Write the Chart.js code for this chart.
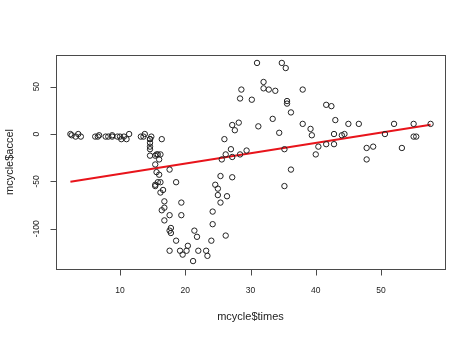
<!DOCTYPE html>
<html>
<head>
<meta charset="utf-8">
<script src="https://cdn.jsdelivr.net/npm/chart.js@4"></script>
<style>
  html, body { margin: 0; padding: 0; background: #fff; }
  #wrap { width: 474px; height: 338px; }
</style>
</head>
<body>
<div id="wrap"><canvas id="plot" width="474" height="338"></canvas></div>
<script>
// mcycle data (MASS)
const times = [2.4, 2.6, 3.2, 3.6, 4.0, 6.2, 6.6, 6.8, 7.8, 8.2,
  8.8, 8.8, 9.6, 10.0, 10.2, 10.6, 11.0, 11.4, 13.2, 13.6,
  13.8, 14.6, 14.6, 14.6, 14.6, 14.6, 14.6, 14.8, 15.4, 15.4,
  15.4, 15.4, 15.6, 15.6, 15.8, 15.8, 16.0, 16.0, 16.2, 16.2,
  16.2, 16.4, 16.4, 16.6, 16.8, 16.8, 16.8, 17.6, 17.6, 17.6,
  17.6, 17.8, 17.8, 18.6, 18.6, 19.2, 19.4, 19.4, 19.6, 20.2,
  20.4, 21.2, 21.4, 21.8, 22.0, 23.2, 23.4, 24.0, 24.2, 24.2,
  24.6, 25.0, 25.0, 25.4, 25.4, 25.6, 26.0, 26.2, 26.2, 26.4,
  27.0, 27.2, 27.2, 27.2, 27.6, 28.2, 28.4, 28.4, 28.6, 29.4,
  30.2, 31.0, 31.2, 32.0, 32.0, 32.8, 33.4, 33.8, 34.4, 34.8,
  35.2, 35.2, 35.4, 35.6, 35.6, 36.2, 36.2, 38.0, 38.0, 39.2,
  39.4, 40.0, 40.4, 41.6, 41.6, 42.4, 42.8, 42.8, 43.0, 44.0,
  44.4, 45.0, 46.6, 47.8, 47.8, 48.8, 50.6, 52.0, 53.2, 55.0,
  55.0, 55.4, 57.6];
const accel = [0.0, -1.3, -2.7, 0.0, -2.7, -2.7, -2.7, -1.3, -2.7, -2.7,
  -1.3, -2.7, -2.7, -2.7, -5.4, -2.7, -5.4, 0.0, -2.7, -2.7,
  0.0, -13.3, -5.4, -5.4, -9.3, -16.0, -22.8, -2.7, -22.8, -32.1,
  -53.5, -54.9, -40.2, -21.5, -21.5, -50.8, -42.9, -26.8, -21.5, -50.8,
  -61.7, -5.4, -80.4, -59.0, -71.0, -91.1, -77.7, -37.5, -85.6, -123.1,
  -101.9, -99.1, -104.4, -112.5, -50.8, -123.1, -85.6, -72.3, -127.2, -123.1,
  -117.9, -134.0, -101.9, -108.4, -123.1, -123.1, -128.5, -112.5, -95.1, -81.8,
  -53.5, -64.4, -57.6, -72.3, -44.3, -26.8, -5.4, -107.1, -21.5, -65.6,
  -16.0, -45.6, -24.2, 9.5, 4.0, 12.0, -21.5, 37.5, 46.9, -17.4,
  36.2, 75.0, 8.1, 54.9, 48.2, 46.9, 16.0, 45.6, 1.3, 75.0,
  -16.0, -54.9, 69.6, 34.8, 32.1, -37.5, 22.8, 46.9, 10.7, 5.4,
  -1.3, -21.5, -13.3, 30.8, -10.7, 29.4, 0.0, -10.7, 14.7, -1.3,
  0.0, 10.7, 10.7, -26.8, -14.7, -13.3, 0.0, 10.7, -14.7, -2.7,
  10.7, -2.7, 10.7];
const xTicks = [10, 20, 30, 40, 50];
const yTicks = [-100, -50, 0, 50];

// least squares fit accel ~ times
const n = times.length;
const mx = times.reduce((a, b) => a + b, 0) / n;
const my = accel.reduce((a, b) => a + b, 0) / n;
let sxy = 0, sxx = 0;
for (let i = 0; i < n; i++) {
  sxy += (times[i] - mx) * (accel[i] - my);
  sxx += (times[i] - mx) * (times[i] - mx);
}
const slope = sxy / sxx;
const icpt = my - slope * mx;
const fitLine = [Math.min(...times), Math.max(...times)].map(t => ({ x: t, y: icpt + slope * t }));

// R style: 4% padding on data range
const xr = Math.max(...times) - Math.min(...times);
const yr = Math.max(...accel) - Math.min(...accel);
const xMin = Math.min(...times) - 0.04 * xr, xMax = Math.max(...times) + 0.04 * xr;
const yMin = Math.min(...accel) - 0.04 * yr, yMax = Math.max(...accel) + 0.04 * yr;

const ink = '#222';
const boxInk = '#4a4a4a';

// box, ticks and labels drawn like base R graphics
const rAxes = {
  id: 'rAxes',
  afterDraw(chart) {
    const ctx = chart.ctx;
    const a = chart.chartArea;
    const sx = chart.scales.x, sy = chart.scales.y;
    ctx.save();
    ctx.strokeStyle = boxInk;
    ctx.lineWidth = 1;
    ctx.strokeRect(Math.round(a.left) + 0.5, Math.round(a.top) + 0.5,
      Math.round(a.right - a.left), Math.round(a.bottom - a.top));
    ctx.fillStyle = ink;
    ctx.font = '8.5px "Liberation Sans", Arial, sans-serif';

    // x axis
    const by = Math.round(a.bottom) + 0.5;
    ctx.beginPath();
    ctx.moveTo(sx.getPixelForValue(xTicks[0]), by);
    ctx.lineTo(sx.getPixelForValue(xTicks[xTicks.length - 1]), by);
    xTicks.forEach(t => {
      const px = Math.round(sx.getPixelForValue(t)) + 0.5;
      ctx.moveTo(px, by);
      ctx.lineTo(px, by + 6);
    });
    ctx.stroke();
    ctx.textAlign = 'center';
    ctx.textBaseline = 'middle';
    xTicks.forEach(t => ctx.fillText(String(t), sx.getPixelForValue(t), a.bottom + 22));

    // y axis
    const lx = Math.round(a.left) + 0.5;
    ctx.beginPath();
    ctx.moveTo(lx, sy.getPixelForValue(yTicks[0]));
    ctx.lineTo(lx, sy.getPixelForValue(yTicks[yTicks.length - 1]));
    yTicks.forEach(t => {
      const py = Math.round(sy.getPixelForValue(t)) + 0.5;
      ctx.moveTo(lx, py);
      ctx.lineTo(lx - 6, py);
    });
    ctx.stroke();
    yTicks.forEach(t => {
      ctx.save();
      ctx.translate(a.left - 19, sy.getPixelForValue(t));
      ctx.rotate(-Math.PI / 2);
      ctx.fillText(String(t), 0, 0);
      ctx.restore();
    });

    // axis titles
    ctx.font = '11px "Liberation Sans", Arial, sans-serif';
    ctx.fillText('mcycle$times', (a.left + a.right) / 2, a.bottom + 48);
    ctx.save();
    ctx.translate(9.5, (a.top + a.bottom) / 2);
    ctx.rotate(-Math.PI / 2);
    ctx.fillText('mcycle$accel', 0, 0);
    ctx.restore();
    ctx.restore();
  }
};

const chart = new Chart(document.getElementById('plot'), {
  type: 'scatter',
  data: {
    datasets: [{
      label: 'accel',
      data: times.map((t, i) => ({ x: t, y: accel[i] })),
      pointStyle: 'circle',
      pointRadius: 2.7,
      pointBorderWidth: 1,
      pointBorderColor: ink,
      pointBackgroundColor: 'rgba(0,0,0,0)',
      showLine: false
    }, {
      label: 'fit',
      type: 'line',
      data: fitLine,
      borderColor: '#e8141b',
      borderWidth: 2,
      pointRadius: 0,
      fill: false
    }]
  },
  options: {
    responsive: false,
    animation: false,
    devicePixelRatio: 1,
    layout: { padding: { left: 56, top: 55, right: 29, bottom: 69 } },
    plugins: { legend: { display: false }, tooltip: { enabled: false } },
    scales: {
      x: { type: 'linear', display: false, min: xMin, max: xMax },
      y: { type: 'linear', display: false, min: yMin, max: yMax }
    }
  },
  plugins: [rAxes]
});
</script>
</body>
</html>
